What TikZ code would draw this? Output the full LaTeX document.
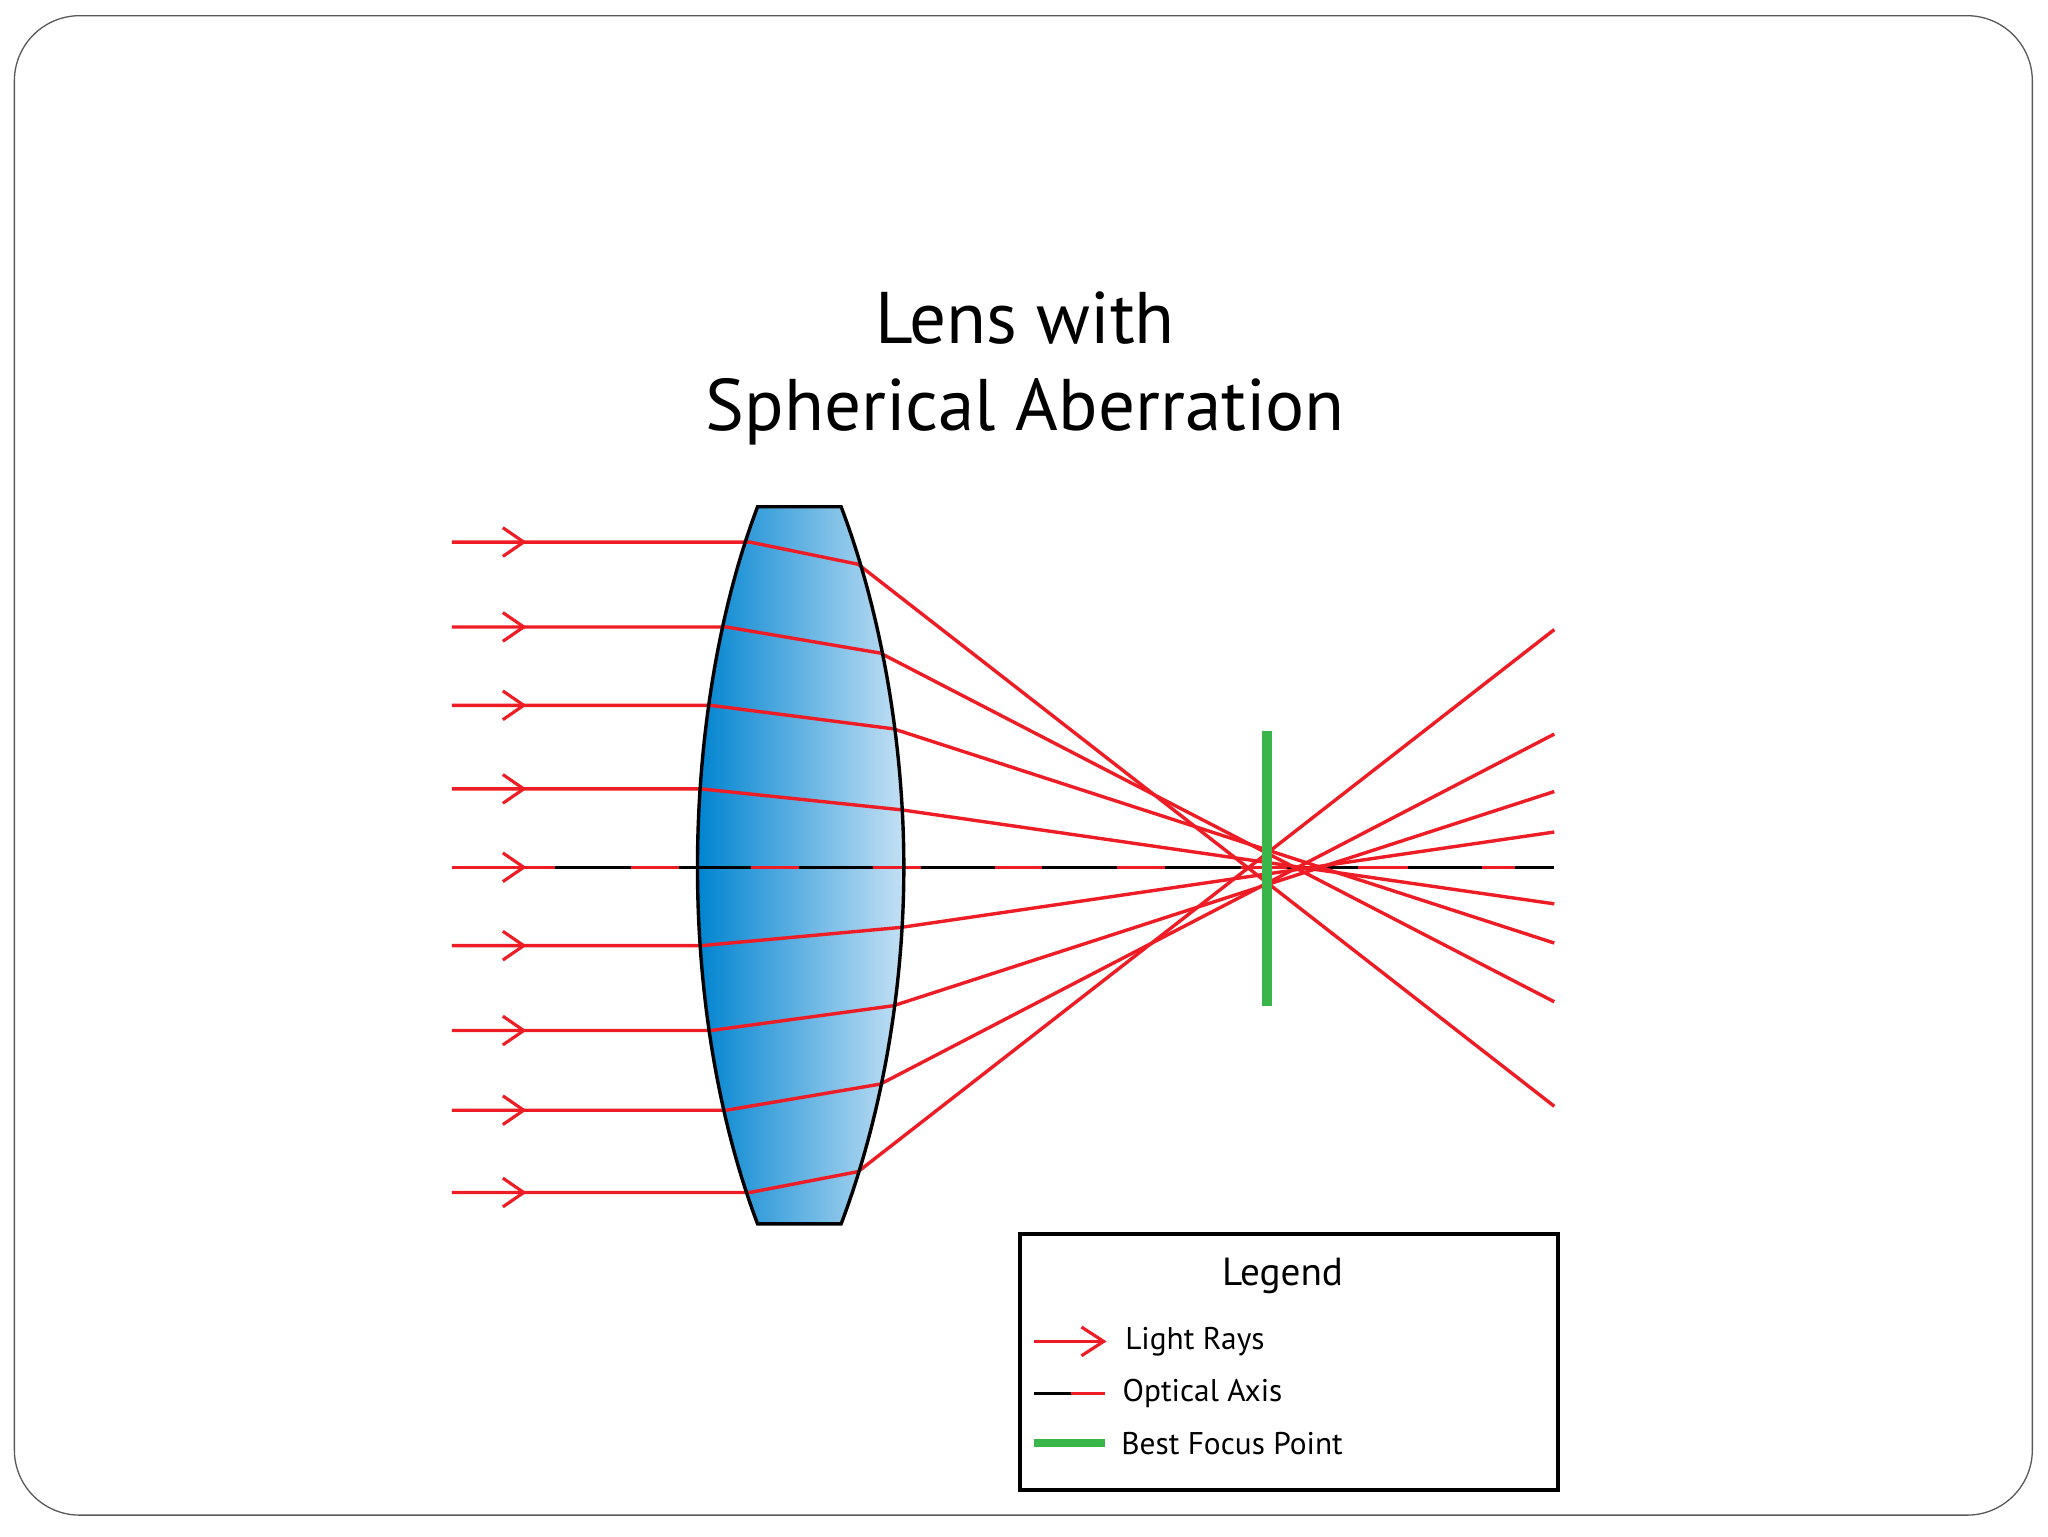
\documentclass[tikz,border=0pt]{standalone}
\usepackage{fontspec}
\setmainfont{PT Sans}
\usetikzlibrary{arrows.meta}
\definecolor{rayred}{RGB}{238,28,36}
\definecolor{focgreen}{RGB}{57,181,74}
\definecolor{lensdark}{RGB}{0,132,208}
\definecolor{lenslight}{RGB}{196,224,244}
\tikzset{
  ray/.style={draw=rayred,line width=2.6pt},
  chev/.style={draw=rayred,line width=2.4pt},
}
\begin{document}
\begin{tikzpicture}[x=1pt,y=-1pt]
\useasboundingbox (0,0) rectangle (1568,1176);
\draw[gray!70!black,line width=1pt,rounded corners=50pt] (11,12) rectangle (1556,1160);
\node[font=\fontsize{56}{66}\selectfont,align=center] (title) at (785,282) {Lens with\\Spherical Aberration};
% lens
\def\lenspath{(580,388) -- (644,388) .. controls (675,470) and (692,570) .. (692,664) .. controls (692,758) and (675,855) .. (644,937) -- (580,937) .. controls (549,855) and (534,758) .. (534,664) .. controls (534,570) and (549,470) .. (580,388) -- cycle}
\shade[left color=lensdark,right color=lenslight] \lenspath;
% axis
\foreach \a/\b/\c in {425/483/black,483/520/rayred,520/575/black,575/612/rayred,612/668/black,668/705/rayred,705/762/black,762/798/rayred,798/855/black,855/892/rayred,892/950/black,950/985/rayred,985/1040/black,1040/1078/rayred,1078/1135/black,1135/1160/rayred,1160/1190/black}
  \draw[\c,line width=2.6pt] (\a,664) -- (\b,664);
% rays
\foreach \y/\xl/\xr/\yr/\ye in {415/574/657/432/847,480/556/674/500/767,540/544/684/558/722,604/537/690/620/692,724/537/690/710/637,789/544/684/770/606,850/556/674/830/562,913/574/657/897/482}{
  \draw[ray] (346,\y) -- (\xl,\y) -- (\xr,\yr) -- (1190,\ye);
  \draw[chev] (385,\y-11) -- (401,\y) -- (385,\y+11);
}
\draw[ray] (346,664) -- (425,664);
\draw[chev] (385,653) -- (401,664) -- (385,675);
\draw[black,line width=2.6pt] \lenspath;
% focus
\draw[focgreen,line width=7pt] (970,560) -- (970,770);
% legend
\draw[black,line width=3pt] (781,945) rectangle (1193,1141);
\node[font=\fontsize{30}{36}\selectfont] (leg) at (982,977) {Legend};
\draw[chev] (792,1027) -- (846,1027);
\draw[chev] (828,1016) -- (845,1027) -- (828,1038);
\node[font=\fontsize{24}{30}\selectfont,anchor=west] (l1) at (858,1027) {Light Rays};
\draw[black,line width=2.6pt] (792,1067) -- (820,1067);
\draw[rayred,line width=2.6pt] (820,1067) -- (846,1067);
\node[font=\fontsize{24}{30}\selectfont,anchor=west] (l2) at (856,1067) {Optical Axis};
\draw[focgreen,line width=6pt] (792,1105) -- (846,1105);
\node[font=\fontsize{24}{30}\selectfont,anchor=west] (l3) at (855,1105) {Best Focus Point};
\end{tikzpicture}
\end{document}
